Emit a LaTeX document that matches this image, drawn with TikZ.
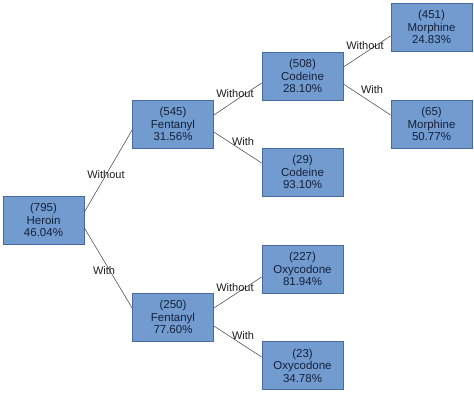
\documentclass[tikz,border=0pt]{standalone}
\usepackage{fontspec}
\setmainfont{Liberation Sans}
\definecolor{boxfill}{RGB}{114,155,208}
\definecolor{boxline}{RGB}{72,106,158}
\definecolor{boxtext}{RGB}{22,32,55}
\definecolor{edgecol}{RGB}{85,85,85}
\definecolor{labtext}{RGB}{30,30,30}
\begin{document}
\begin{tikzpicture}[x=1pt,y=-1pt,
  drugbox/.style={draw=boxline,fill=boxfill,line width=0.8pt,minimum width=81pt,minimum height=48pt,
    inner sep=0pt,align=center,text=boxtext,font=\fontsize{11.5}{12.5}\selectfont},
  edge/.style={draw=edgecol,line width=0.6pt},
  lab/.style={text=labtext,font=\fontsize{11}{12}\selectfont,inner sep=0pt}]
\useasboundingbox (0,0) rectangle (474,392);
\node[drugbox] (h) at (43.5,220) {(795)\\Heroin\\46.04\%};
\node[drugbox] (f1) at (173,124) {(545)\\Fentanyl\\31.56\%};
\node[drugbox] (f2) at (173,317) {(250)\\Fentanyl\\77.60\%};
\node[drugbox] (c1) at (302.5,76) {(508)\\Codeine\\28.10\%};
\node[drugbox] (c2) at (302.5,172) {(29)\\Codeine\\93.10\%};
\node[drugbox] (m1) at (431.5,27) {(451)\\Morphine\\24.83\%};
\node[drugbox] (m2) at (431.5,124) {(65)\\Morphine\\50.77\%};
\node[drugbox] (o1) at (302.5,269) {(227)\\Oxycodone\\81.94\%};
\node[drugbox] (o2) at (302.5,365.5) {(23)\\Oxycodone\\34.78\%};
\draw[edge] ([yshift=8pt]h.east) -- ([yshift=-6pt]f1.west);
\draw[edge] ([yshift=-8pt]h.east) -- ([yshift=9pt]f2.west);
\draw[edge] ([yshift=9pt]f1.east) -- ([yshift=-7pt]c1.west);
\draw[edge] ([yshift=-8pt]f1.east) -- ([yshift=9pt]c2.west);
\draw[edge] ([yshift=9pt]c1.east) -- ([yshift=-9pt]m1.west);
\draw[edge] ([yshift=-8pt]c1.east) -- ([yshift=9pt]m2.west);
\draw[edge] ([yshift=9pt]f2.east) -- ([yshift=-8pt]o1.west);
\draw[edge] ([yshift=-9pt]f2.east) -- ([yshift=8.5pt]o2.west);
\node[lab] (l1) at (106,175) {Without};
\node[lab] (l2) at (104,271) {With};
\node[lab] (l3) at (235,94) {Without};
\node[lab] (l4) at (243,142) {With};
\node[lab] (l5) at (365,46) {Without};
\node[lab] (l6) at (372,90) {With};
\node[lab] (l7) at (235,288) {Without};
\node[lab] (l8) at (243,336) {With};
\end{tikzpicture}
\end{document}
